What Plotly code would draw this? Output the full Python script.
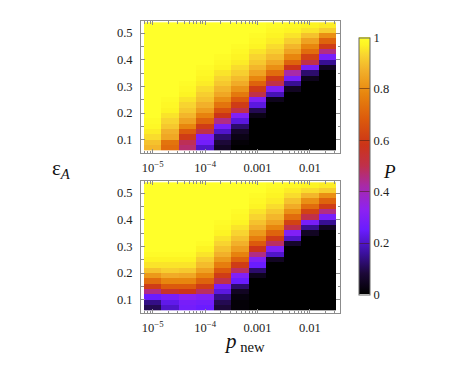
import numpy as np
import plotly.graph_objects as go

# ---- data ----
p_new = [1e-05, 2.154e-05, 4.642e-05, 1e-04, 2.154e-04, 4.642e-04,
         1e-03, 2.154e-03, 4.642e-03, 1e-02, 2.154e-02]
eps_A = [0.07, 0.09, 0.11, 0.13, 0.15, 0.17, 0.19, 0.21, 0.23, 0.25, 0.27, 0.29,
         0.31, 0.33, 0.35, 0.37, 0.39, 0.41, 0.43, 0.45, 0.47, 0.49, 0.51, 0.53]

# P values, one list per p_new column (bottom to top in eps_A)
top_cols = [
    [0.88,0.9,0.94,0.96,0.98,0.99,1,1,1,1,1,1,1,1,1,1,1,1,1,1,1,1,1,1],
    [0.72,0.74,0.85,0.87,0.91,0.93,0.95,0.97,0.98,0.99,1,1,1,1,1,1,1,1,1,1,1,1,1,1],
    [0.47,0.49,0.6,0.68,0.78,0.84,0.88,0.91,0.93,0.95,0.97,0.98,0.99,1,1,1,1,1,1,1,1,1,1,1],
    [0.2,0.27,0.3,0.5,0.6,0.7,0.77,0.83,0.87,0.9,0.92,0.94,0.96,0.97,0.98,0.99,1,1,1,1,1,1,1,1],
    [0.05,0.08,0.12,0.2,0.28,0.45,0.58,0.66,0.74,0.8,0.85,0.88,0.91,0.93,0.95,0.97,0.98,0.99,1,1,1,1,1,1],
    [0,0.01,0.03,0.06,0.12,0.22,0.3,0.5,0.6,0.68,0.75,0.81,0.86,0.89,0.92,0.94,0.96,0.97,0.98,0.99,1,1,1,1],
    [0,0,0,0,0,0,0.03,0.1,0.22,0.3,0.5,0.6,0.7,0.78,0.84,0.88,0.91,0.93,0.95,0.97,0.98,0.99,1,1],
    [0,0,0,0,0,0,0,0,0,0.04,0.18,0.3,0.5,0.6,0.72,0.8,0.85,0.89,0.92,0.94,0.96,0.97,0.98,0.99],
    [0,0,0,0,0,0,0,0,0,0,0,0.05,0.15,0.28,0.42,0.58,0.7,0.78,0.84,0.88,0.92,0.95,0.97,0.98],
    [0,0,0,0,0,0,0,0,0,0,0,0,0,0.04,0.12,0.28,0.5,0.62,0.72,0.78,0.84,0.9,0.95,0.97],
    [0,0,0,0,0,0,0,0,0,0,0,0,0,0,0,0.05,0.15,0.28,0.45,0.6,0.7,0.8,0.92,0.96],
]
bottom_cols = [
    [0.1,0.14,0.25,0.45,0.6,0.72,0.82,0.9,0.95,0.97,0.99,1,1,1,1,1,1,1,1,1,1,1,1,1],
    [0.2,0.23,0.28,0.55,0.68,0.78,0.86,0.92,0.95,0.97,0.99,1,1,1,1,1,1,1,1,1,1,1,1,1],
    [0.27,0.28,0.32,0.58,0.68,0.78,0.85,0.91,0.95,0.97,0.99,1,1,1,1,1,1,1,1,1,1,1,1,1],
    [0.25,0.27,0.3,0.48,0.6,0.7,0.78,0.84,0.89,0.92,0.95,0.97,0.99,1,1,1,1,1,1,1,1,1,1,1],
    [0.08,0.1,0.14,0.22,0.28,0.5,0.6,0.68,0.76,0.82,0.87,0.9,0.93,0.95,0.97,0.98,0.99,1,1,1,1,1,1,1],
    [0.01,0.01,0.02,0.05,0.12,0.25,0.3,0.48,0.6,0.7,0.77,0.83,0.87,0.9,0.93,0.95,0.97,0.98,0.99,1,1,1,1,1],
    [0,0,0,0,0,0,0.04,0.12,0.25,0.3,0.45,0.58,0.68,0.76,0.82,0.87,0.9,0.93,0.95,0.97,0.98,0.99,1,1],
    [0,0,0,0,0,0,0,0,0,0.05,0.2,0.3,0.48,0.6,0.7,0.78,0.84,0.88,0.91,0.94,0.96,0.97,0.98,0.99],
    [0,0,0,0,0,0,0,0,0,0,0,0,0.06,0.2,0.3,0.5,0.62,0.72,0.8,0.86,0.9,0.94,0.96,0.98],
    [0,0,0,0,0,0,0,0,0,0,0,0,0,0,0.05,0.15,0.28,0.5,0.62,0.72,0.8,0.88,0.94,0.97],
    [0,0,0,0,0,0,0,0,0,0,0,0,0,0,0,0.05,0.15,0.28,0.45,0.6,0.7,0.8,0.92,0.96],
]

x_tickvals = [1e-5, 1e-4, 1e-3, 1e-2]
x_ticktext = ["10<sup>\u22125</sup>", "10<sup>\u22124</sup>", "0.001", "0.01"]
y_tickvals = [0.1, 0.2, 0.3, 0.4, 0.5]
y_ticktext = ["0.1", "0.2", "0.3", "0.4", "0.5"]
cbar_vals = [0, 0.2, 0.4, 0.6, 0.8, 1]
cbar_text = ["0", "0.2", "0.4", "0.6", "0.8", "1"]

# ---- figure ----
W, H = 474, 367
lx = np.log10(p_new)
z_top = np.array(top_cols).T
z_bot = np.array(bottom_cols).T

colorscale = [
    [0.0, "#000000"], [0.08, "#1c0838"], [0.16, "#3c10a0"], [0.25, "#6a1cff"],
    [0.33, "#8e22f0"], [0.42, "#a82aa8"], [0.5, "#c0304a"], [0.58, "#cc3418"],
    [0.68, "#dc5a0c"], [0.78, "#e8860e"], [0.87, "#f2b02a"], [0.93, "#f8d430"],
    [0.97, "#fdf424"], [1.0, "#ffff2a"],
]

SERIF = "Liberation Serif, Times New Roman, serif"

fig = go.Figure()
fig.add_trace(go.Heatmap(x=lx, y=eps_A, z=z_top, coloraxis="coloraxis",
                         xaxis="x", yaxis="y", hoverinfo="skip"))
fig.add_trace(go.Heatmap(x=lx, y=eps_A, z=z_bot, coloraxis="coloraxis",
                         xaxis="x2", yaxis="y2", hoverinfo="skip"))

font = dict(family=SERIF, size=12.5, color="#222")
minor_x = [np.log10(k * 10.0 ** n) for n in range(-6, -1) for k in range(2, 10)]
frame = "#8c8c8c"

def xax(anchor):
    return dict(domain=[133 / W, 332 / W], range=[-5.224, -1.424], anchor=anchor,
                tickmode="array", tickvals=np.log10(x_tickvals), ticktext=x_ticktext,
                ticks="inside", ticklen=4, tickcolor=frame, tickwidth=1,
                minor=dict(tickmode="array", tickvals=minor_x, ticks="inside",
                           ticklen=2.5, tickcolor=frame, showgrid=False),
                showline=True, linecolor=frame, linewidth=1, mirror="allticks",
                showgrid=False, zeroline=False, tickfont=font, ticklabelstandoff=3)

def yax(anchor, dom):
    return dict(domain=dom, range=[0.05, 0.545], anchor=anchor,
                tickmode="array", tickvals=y_tickvals, ticktext=y_ticktext,
                ticks="inside", ticklen=4, tickcolor=frame, tickwidth=1,
                minor=dict(dtick=0.05, tick0=0, ticks="inside", ticklen=2.5,
                           tickcolor=frame, showgrid=False),
                showline=True, linecolor=frame, linewidth=1, mirror="allticks",
                showgrid=False, zeroline=False, tickfont=font, ticklabelstandoff=5)

fig.update_layout(
    width=W, height=H, autosize=False,
    margin=dict(l=0, r=0, t=0, b=0),
    paper_bgcolor="white", plot_bgcolor="white",
    showlegend=False, font=dict(family=SERIF),
    xaxis=xax("y"), yaxis=yax("x", [1 - 145 / H, 1 - 13 / H]),
    xaxis2=xax("y2"), yaxis2=yax("x2", [1 - 305 / H, 1 - 173 / H]),
    coloraxis=dict(
        colorscale=colorscale, cmin=0, cmax=1,
        colorbar=dict(
            x=351 / W, xanchor="left", xpad=0,
            y=1 - 158 / H, yanchor="middle", ypad=0,
            len=257 / H, lenmode="fraction", thickness=11, thicknessmode="pixels",
            outlinewidth=1, outlinecolor="#666",
            tickmode="array", tickvals=cbar_vals, ticktext=cbar_text,
            ticks="inside", ticklen=11, tickcolor="rgba(70,30,20,0.55)",
            tickfont=font, ticklabelposition="outside",
        ),
    ),
    annotations=[
        dict(x=42 / W, y=1 - 161 / H, xref="paper", yref="paper",
             text="\u03b5<sub><i>A</i></sub>", showarrow=False,
             font=dict(family=SERIF, size=21, color="#111")),
        dict(x=236 / W, y=1 - 349 / H, xref="paper", yref="paper",
             text="<i>p</i><sub> new</sub>", showarrow=False,
             font=dict(family=SERIF, size=21, color="#111")),
        dict(x=390 / W, y=1 - 163 / H, xref="paper", yref="paper",
             text="<i>P</i>", showarrow=False,
             font=dict(family=SERIF, size=19, color="#111")),
    ],
)

fig.write_html("out.html")
